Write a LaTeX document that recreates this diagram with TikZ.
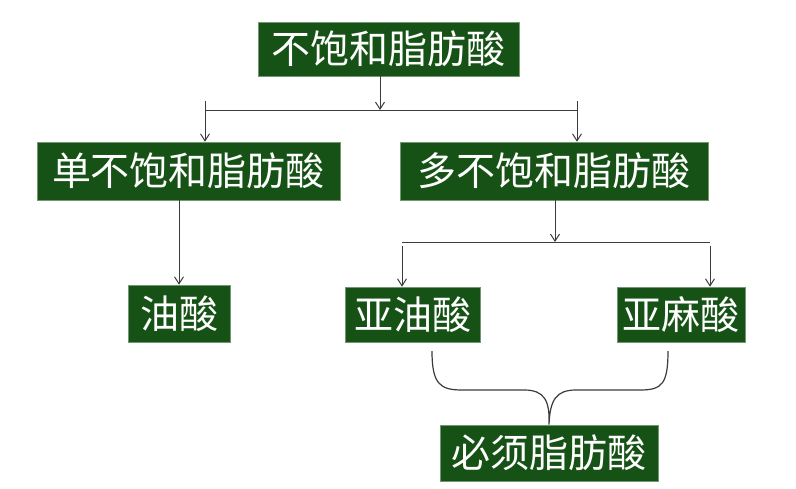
\documentclass[tikz,border=0pt]{standalone}
\usepackage{fontspec}
\newfontfamily\cjk{Noto Sans CJK SC}
\usetikzlibrary{arrows.meta}
\definecolor{boxgreen}{RGB}{22,82,22}
\definecolor{linegray}{RGB}{60,60,60}
\tikzset{
  gbox/.style={fill=boxgreen, draw=boxgreen!60!white, line width=0.6pt, text=white, inner sep=0pt,
    font=\cjk\fontsize{39}{42}\selectfont, anchor=center},
  conn/.style={draw=linegray, line width=1pt},
  arr/.style={conn, -{Straight Barb[length=7pt,width=9pt]}},
}
\begin{document}
\begin{tikzpicture}[x=1pt,y=-1pt]
\useasboundingbox[fill=white] (0,0) rectangle (796,488);
% nodes
\node[gbox, minimum width=261pt, minimum height=54pt] (top) at (388.5,49) {不饱和脂肪酸};
\node[gbox, minimum width=303pt, minimum height=58pt] (mono) at (188.5,171) {单不饱和脂肪酸};
\node[gbox, minimum width=308pt, minimum height=58pt] (poly) at (554,171) {多不饱和脂肪酸};
\node[gbox, minimum width=102pt, minimum height=57pt] (oleic) at (179,313.5) {油酸};
\node[gbox, minimum width=135pt, minimum height=55pt] (linoleic) at (412.5,314.5) {亚油酸};
\node[gbox, minimum width=128pt, minimum height=55pt] (linolenic) at (681,314.5) {亚麻酸};
\node[gbox, minimum width=218pt, minimum height=56pt] (essential) at (549,453) {必须脂肪酸};
% junction coordinates
\coordinate (t1) at (380,110);
\coordinate (hL) at (205,110);
\coordinate (hR) at (577,110);
\coordinate (vL) at (205,101);
\coordinate (vR) at (577,101);
\coordinate (p1) at (555,242);
\coordinate (gL) at (402,242);
\coordinate (gR) at (710,242);
\coordinate (uL) at (402,246);
\coordinate (uR) at (710,246);
\coordinate (bL) at (432,351);
\coordinate (bR) at (668,351);
% top level
\draw[arr] (top.south -| t1) -- (t1);
\draw[conn] (hL) -- (hR);
\draw[arr] (vL) -- (vL |- mono.north);
\draw[arr] (vR) -- (vR |- poly.north);
% mono -> oleic
\draw[arr] (mono.south -| oleic.north) -- (oleic.north);
% poly branch
\draw[arr] (poly.south -| p1) -- (p1);
\draw[conn] (gL) -- (gR);
\draw[arr] (uL) -- (uL |- linoleic.north);
\draw[arr] (uR) -- (uR |- linolenic.north);
% brace
\draw[conn, line width=1.2pt] (bL) .. controls (432,384) and (440,390) .. (462,390) -- (524,390)
  .. controls (544,390) and (550,400) .. (essential.north)
  .. controls (550,400) and (556,390) .. (576,390) -- (640,390)
  .. controls (662,390) and (668,384) .. (bR);
\end{tikzpicture}
\end{document}
